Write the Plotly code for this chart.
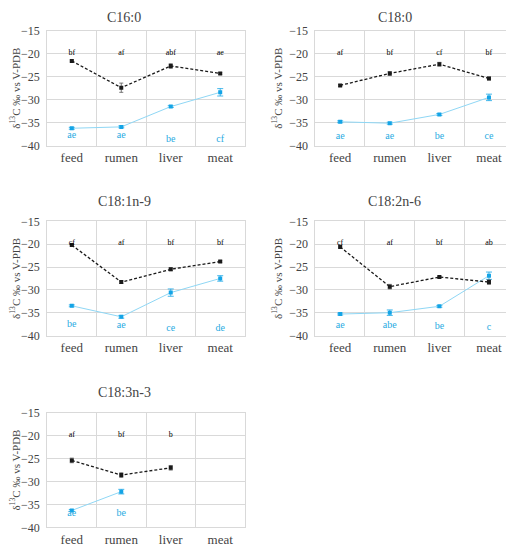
import plotly.graph_objects as go
from plotly.subplots import make_subplots

categories = ["feed", "rumen", "liver", "meat"]
panel_titles = ["C16:0", "C18:0", "C18:1n-9", "C18:2n-6", "C18:3n-3"]

black_vals = [
    [-21.6, -27.4, -22.7, -24.3],
    [-26.9, -24.3, -22.3, -25.4],
    [-20.2, -28.3, -25.5, -23.8],
    [-20.6, -29.3, -27.2, -28.3],
    [-25.4, -28.6, -27.0, None],
]
black_err = [
    [0.2, 1.0, 0.5, 0.2],
    [0.2, 0.4, 0.4, 0.3],
    [0.2, 0.3, 0.3, 0.2],
    [0.2, 0.5, 0.2, 0.5],
    [0.5, 0.5, 0.5, None],
]
blue_vals = [
    [-36.2, -35.9, -31.5, -28.4],
    [-34.8, -35.1, -33.2, -29.5],
    [-33.5, -35.9, -30.6, -27.5],
    [-35.3, -35.0, -33.6, -26.9],
    [-36.3, -32.2, None, None],
]
blue_err = [
    [0.2, 0.2, 0.2, 0.8],
    [0.2, 0.2, 0.2, 0.7],
    [0.2, 0.3, 0.8, 0.6],
    [0.2, 0.6, 0.2, 0.8],
    [0.2, 0.5, None, None],
]
black_letters = [
    ["bf", "af", "abf", "ae"],
    ["af", "bf", "cf", "bf"],
    ["cf", "af", "bf", "bf"],
    ["cf", "af", "bf", "ab"],
    ["af", "bf", "b", ""],
]
black_letter_y = [
    [-19.8, -19.8, -19.8, -19.8],
    [-19.8, -19.8, -19.8, -19.8],
    [-19.8, -19.8, -19.8, -19.8],
    [-19.8, -19.8, -19.8, -19.8],
    [-19.8, -19.8, -19.8, None],
]
blue_letters = [
    ["ae", "ae", "be", "cf"],
    ["ae", "ae", "be", "ce"],
    ["be", "ae", "ce", "de"],
    ["ae", "abe", "be", "c"],
    ["ae", "be", "", ""],
]
blue_letter_y = [
    [-37.8, -37.8, -38.6, -38.6],
    [-38.0, -38.0, -38.0, -38.0],
    [-37.5, -37.7, -38.5, -38.5],
    [-37.9, -37.7, -38.0, -38.3],
    [-36.9, -36.9, None, None],
]

FONT = "Liberation Serif"
BLACK = "#1a1a1a"
BLUE_LINE = "#8fd7f5"
BLUE_MARK = "#14a4e6"
BLUE_TEXT = "#29abe2"
GRID = "#d9d9d9"
TXT = "#444444"

fig = make_subplots(rows=3, cols=2)

x_domains = [[0.076, 0.461], [0.598, 0.984]]
y_domains = [[0.756, 0.971], [0.402, 0.615], [0.044, 0.258]]
title_x = [0.226, 0.752]
title_y = [0.996, 0.652, 0.295]

for i, title in enumerate(panel_titles):
    r, c = i // 2 + 1, i % 2 + 1
    fig.add_trace(go.Scatter(
        x=categories, y=blue_vals[i], mode="lines+markers",
        line=dict(color=BLUE_LINE, width=1),
        marker=dict(color=BLUE_MARK, size=4, symbol="square"),
        error_y=dict(type="data", array=blue_err[i], color=BLUE_MARK, thickness=0.8, width=3),
        connectgaps=False, showlegend=False), row=r, col=c)
    fig.add_trace(go.Scatter(
        x=categories, y=black_vals[i], mode="lines+markers",
        line=dict(color=BLACK, width=1.3, dash="3px,2px"),
        marker=dict(color=BLACK, size=4, symbol="square"),
        error_y=dict(type="data", array=black_err[i], color="#555555", thickness=0.8, width=2),
        connectgaps=False, showlegend=False), row=r, col=c)
    fig.add_trace(go.Scatter(
        x=categories, y=black_letter_y[i], mode="text", text=black_letters[i],
        textfont=dict(family=FONT, size=8, color="#000000"), showlegend=False,
        hoverinfo="skip"), row=r, col=c)
    fig.add_trace(go.Scatter(
        x=categories, y=blue_letter_y[i], mode="text", text=blue_letters[i],
        textfont=dict(family=FONT, size=10, color=BLUE_TEXT), showlegend=False,
        hoverinfo="skip"), row=r, col=c)
    fig.update_xaxes(
        domain=x_domains[c - 1], type="category", categoryorder="array",
        categoryarray=categories, range=[-0.5, 3.5], tickson="boundaries",
        showgrid=True, gridcolor=GRID, gridwidth=1, showline=True, mirror=True,
        linecolor=GRID, linewidth=1, ticks="", zeroline=False,
        tickfont=dict(family=FONT, size=13, color=TXT),
        row=r, col=c)
    fig.update_yaxes(
        domain=y_domains[r - 1], range=[-40, -15], dtick=5, tick0=-40,
        showgrid=True, gridcolor=GRID, gridwidth=1, showline=True, mirror=True,
        linecolor=GRID, linewidth=1, ticks="", zeroline=False,
        tickfont=dict(family=FONT, size=12, color=TXT), ticklabelstandoff=4,
        title=dict(text="δ<sup>13</sup>C ‰ vs V-PDB", font=dict(family=FONT, size=11, color=TXT),
                   standoff=4),
        row=r, col=c)
    fig.add_annotation(
        text=title, x=title_x[c - 1], y=title_y[r - 1], xref="paper", yref="paper",
        showarrow=False, font=dict(family=FONT, size=14, color=TXT),
        xanchor="center", yanchor="middle")

fig.update_xaxes(visible=False, row=3, col=2)
fig.update_yaxes(visible=False, row=3, col=2)

fig.update_layout(
    width=514, height=550, margin=dict(l=0, r=0, t=0, b=0),
    paper_bgcolor="white", plot_bgcolor="white",
    font=dict(family=FONT),
)

fig.write_html("out.html")
